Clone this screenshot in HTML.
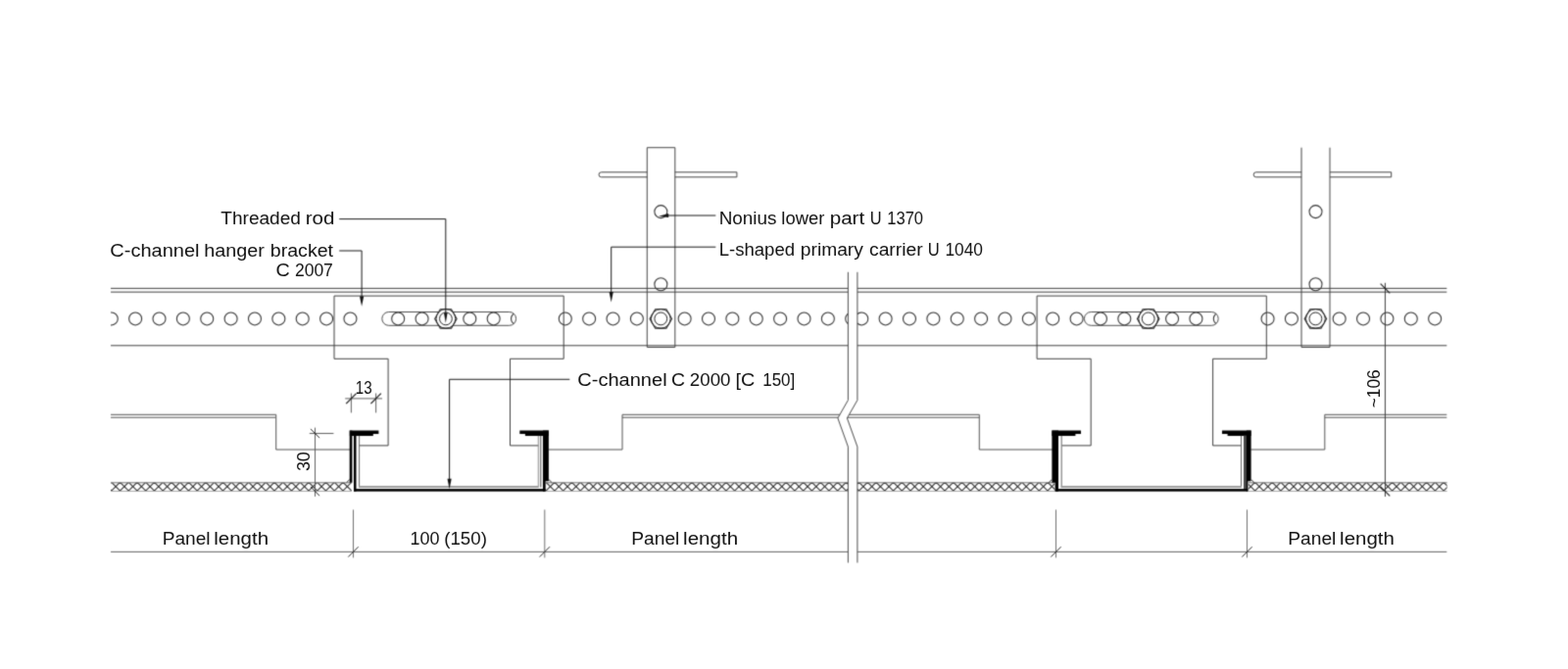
<!DOCTYPE html>
<html lang="en">
<head>
<meta charset="utf-8">
<title>C-channel suspended ceiling detail</title>
<style>
html,body{margin:0;padding:0;background:#fff;}
body{width:1600px;height:683px;overflow:hidden;}
svg{display:block;font-family:"Liberation Sans",sans-serif;}
</style>
</head>
<body>
<svg width="1600" height="683" viewBox="0 0 1600 683">
<filter id="soft" x="0" y="0" width="1600" height="683" filterUnits="userSpaceOnUse" color-interpolation-filters="sRGB"><feConvolveMatrix order="3" kernelMatrix="0.0256 0.1088 0.0256 0.1088 0.4624 0.1088 0.0256 0.1088 0.0256" divisor="1" edgeMode="duplicate" preserveAlpha="false"/></filter>
<g filter="url(#soft)">
<rect x="0" y="0" width="1600" height="683" fill="#ffffff"/>
<line x1="113.00" y1="294.40" x2="865.40" y2="294.40" stroke="#3c3c3c" stroke-width="1.0" />
<line x1="874.90" y1="294.40" x2="1476.30" y2="294.40" stroke="#3c3c3c" stroke-width="1.0" />
<line x1="113.00" y1="298.15" x2="865.40" y2="298.15" stroke="#3c3c3c" stroke-width="1.0" />
<line x1="874.90" y1="298.15" x2="1476.30" y2="298.15" stroke="#3c3c3c" stroke-width="1.0" />
<line x1="113.00" y1="352.80" x2="865.40" y2="352.80" stroke="#3c3c3c" stroke-width="1.0" />
<line x1="874.90" y1="352.80" x2="1476.30" y2="352.80" stroke="#3c3c3c" stroke-width="1.0" />
<clipPath id="cl"><rect x="113" y="300" width="752.4" height="50"/></clipPath>
<clipPath id="cr"><rect x="874.9" y="300" width="620" height="50"/></clipPath>
<clipPath id="s1"><path d="M396.70,318.5 H519.70 A6.90,6.90 0 0 1 519.70,332.3 H396.70 A6.90,6.90 0 0 1 396.70,318.5 Z"/></clipPath>
<clipPath id="s2"><path d="M1113.30,318.5 H1236.30 A6.90,6.90 0 0 1 1236.30,332.3 H1113.30 A6.90,6.90 0 0 1 1113.30,318.5 Z"/></clipPath>
<circle cx="113.75" cy="325.40" r="6.50" fill="none" stroke="#2c2c2c" stroke-width="1.05" clip-path="url(#cl)"/>
<circle cx="138.12" cy="325.40" r="6.50" fill="none" stroke="#2c2c2c" stroke-width="1.05" clip-path="url(#cl)"/>
<circle cx="162.49" cy="325.40" r="6.50" fill="none" stroke="#2c2c2c" stroke-width="1.05" clip-path="url(#cl)"/>
<circle cx="186.86" cy="325.40" r="6.50" fill="none" stroke="#2c2c2c" stroke-width="1.05" clip-path="url(#cl)"/>
<circle cx="211.23" cy="325.40" r="6.50" fill="none" stroke="#2c2c2c" stroke-width="1.05" clip-path="url(#cl)"/>
<circle cx="235.60" cy="325.40" r="6.50" fill="none" stroke="#2c2c2c" stroke-width="1.05" clip-path="url(#cl)"/>
<circle cx="259.97" cy="325.40" r="6.50" fill="none" stroke="#2c2c2c" stroke-width="1.05" clip-path="url(#cl)"/>
<circle cx="284.34" cy="325.40" r="6.50" fill="none" stroke="#2c2c2c" stroke-width="1.05" clip-path="url(#cl)"/>
<circle cx="308.71" cy="325.40" r="6.50" fill="none" stroke="#2c2c2c" stroke-width="1.05" clip-path="url(#cl)"/>
<circle cx="333.08" cy="325.40" r="6.50" fill="none" stroke="#2c2c2c" stroke-width="1.05" clip-path="url(#cl)"/>
<circle cx="357.45" cy="325.40" r="6.50" fill="none" stroke="#2c2c2c" stroke-width="1.05" clip-path="url(#cl)"/>
<circle cx="406.19" cy="325.40" r="6.50" fill="none" stroke="#2c2c2c" stroke-width="1.05" clip-path="url(#cl)"/>
<circle cx="430.56" cy="325.40" r="6.50" fill="none" stroke="#2c2c2c" stroke-width="1.05" clip-path="url(#cl)"/>
<circle cx="479.30" cy="325.40" r="6.50" fill="none" stroke="#2c2c2c" stroke-width="1.05" clip-path="url(#cl)"/>
<circle cx="503.67" cy="325.40" r="6.50" fill="none" stroke="#2c2c2c" stroke-width="1.05" clip-path="url(#cl)"/>
<circle cx="576.78" cy="325.40" r="6.50" fill="none" stroke="#2c2c2c" stroke-width="1.05" clip-path="url(#cl)"/>
<circle cx="601.15" cy="325.40" r="6.50" fill="none" stroke="#2c2c2c" stroke-width="1.05" clip-path="url(#cl)"/>
<circle cx="625.52" cy="325.40" r="6.50" fill="none" stroke="#2c2c2c" stroke-width="1.05" clip-path="url(#cl)"/>
<circle cx="649.89" cy="325.40" r="6.50" fill="none" stroke="#2c2c2c" stroke-width="1.05" clip-path="url(#cl)"/>
<circle cx="698.63" cy="325.40" r="6.50" fill="none" stroke="#2c2c2c" stroke-width="1.05" clip-path="url(#cl)"/>
<circle cx="723.00" cy="325.40" r="6.50" fill="none" stroke="#2c2c2c" stroke-width="1.05" clip-path="url(#cl)"/>
<circle cx="747.37" cy="325.40" r="6.50" fill="none" stroke="#2c2c2c" stroke-width="1.05" clip-path="url(#cl)"/>
<circle cx="771.74" cy="325.40" r="6.50" fill="none" stroke="#2c2c2c" stroke-width="1.05" clip-path="url(#cl)"/>
<circle cx="796.11" cy="325.40" r="6.50" fill="none" stroke="#2c2c2c" stroke-width="1.05" clip-path="url(#cl)"/>
<circle cx="820.48" cy="325.40" r="6.50" fill="none" stroke="#2c2c2c" stroke-width="1.05" clip-path="url(#cl)"/>
<circle cx="844.85" cy="325.40" r="6.50" fill="none" stroke="#2c2c2c" stroke-width="1.05" clip-path="url(#cl)"/>
<circle cx="869.22" cy="325.40" r="6.50" fill="none" stroke="#2c2c2c" stroke-width="1.05" clip-path="url(#cl)"/>
<circle cx="528.04" cy="325.40" r="6.50" fill="none" stroke="#2c2c2c" stroke-width="1.05" clip-path="url(#s1)"/>
<circle cx="879.26" cy="325.40" r="6.50" fill="none" stroke="#2c2c2c" stroke-width="1.05" clip-path="url(#cr)"/>
<circle cx="903.63" cy="325.40" r="6.50" fill="none" stroke="#2c2c2c" stroke-width="1.05" clip-path="url(#cr)"/>
<circle cx="928.00" cy="325.40" r="6.50" fill="none" stroke="#2c2c2c" stroke-width="1.05" clip-path="url(#cr)"/>
<circle cx="952.37" cy="325.40" r="6.50" fill="none" stroke="#2c2c2c" stroke-width="1.05" clip-path="url(#cr)"/>
<circle cx="976.74" cy="325.40" r="6.50" fill="none" stroke="#2c2c2c" stroke-width="1.05" clip-path="url(#cr)"/>
<circle cx="1001.11" cy="325.40" r="6.50" fill="none" stroke="#2c2c2c" stroke-width="1.05" clip-path="url(#cr)"/>
<circle cx="1025.48" cy="325.40" r="6.50" fill="none" stroke="#2c2c2c" stroke-width="1.05" clip-path="url(#cr)"/>
<circle cx="1049.85" cy="325.40" r="6.50" fill="none" stroke="#2c2c2c" stroke-width="1.05" clip-path="url(#cr)"/>
<circle cx="1074.22" cy="325.40" r="6.50" fill="none" stroke="#2c2c2c" stroke-width="1.05" clip-path="url(#cr)"/>
<circle cx="1098.59" cy="325.40" r="6.50" fill="none" stroke="#2c2c2c" stroke-width="1.05" clip-path="url(#cr)"/>
<circle cx="1122.96" cy="325.40" r="6.50" fill="none" stroke="#2c2c2c" stroke-width="1.05" clip-path="url(#cr)"/>
<circle cx="1147.33" cy="325.40" r="6.50" fill="none" stroke="#2c2c2c" stroke-width="1.05" clip-path="url(#cr)"/>
<circle cx="1196.07" cy="325.40" r="6.50" fill="none" stroke="#2c2c2c" stroke-width="1.05" clip-path="url(#cr)"/>
<circle cx="1220.44" cy="325.40" r="6.50" fill="none" stroke="#2c2c2c" stroke-width="1.05" clip-path="url(#cr)"/>
<circle cx="1293.55" cy="325.40" r="6.50" fill="none" stroke="#2c2c2c" stroke-width="1.05" clip-path="url(#cr)"/>
<circle cx="1317.92" cy="325.40" r="6.50" fill="none" stroke="#2c2c2c" stroke-width="1.05" clip-path="url(#cr)"/>
<circle cx="1366.66" cy="325.40" r="6.50" fill="none" stroke="#2c2c2c" stroke-width="1.05" clip-path="url(#cr)"/>
<circle cx="1391.03" cy="325.40" r="6.50" fill="none" stroke="#2c2c2c" stroke-width="1.05" clip-path="url(#cr)"/>
<circle cx="1415.40" cy="325.40" r="6.50" fill="none" stroke="#2c2c2c" stroke-width="1.05" clip-path="url(#cr)"/>
<circle cx="1439.77" cy="325.40" r="6.50" fill="none" stroke="#2c2c2c" stroke-width="1.05" clip-path="url(#cr)"/>
<circle cx="1464.14" cy="325.40" r="6.50" fill="none" stroke="#2c2c2c" stroke-width="1.05" clip-path="url(#cr)"/>
<circle cx="1244.81" cy="325.40" r="6.50" fill="none" stroke="#2c2c2c" stroke-width="1.05" clip-path="url(#s2)"/>
<path d="M396.70,318.5 H519.70 A6.90,6.90 0 0 1 519.70,332.3 H396.70 A6.90,6.90 0 0 1 396.70,318.5 Z" fill="none" stroke="#4c4c4c" stroke-width="1.0"/>
<path d="M1113.30,318.5 H1236.30 A6.90,6.90 0 0 1 1236.30,332.3 H1113.30 A6.90,6.90 0 0 1 1113.30,318.5 Z" fill="none" stroke="#4c4c4c" stroke-width="1.0"/>
<polyline points="366.50,454.90 396.10,454.90 396.10,366.30 341.00,366.30 341.00,302.10 575.20,302.10 575.20,366.30 520.50,366.30 520.50,454.90 549.40,454.90" fill="none" stroke="#3c3c3c" stroke-width="1.0" />
<polyline points="1083.60,454.90 1113.20,454.90 1113.20,366.30 1058.10,366.30 1058.10,302.10 1292.30,302.10 1292.30,366.30 1237.60,366.30 1237.60,454.90 1266.50,454.90" fill="none" stroke="#3c3c3c" stroke-width="1.0" />
<polygon points="660.30,354.50 660.30,150.70 688.80,150.70 688.80,354.50" fill="none" stroke="#424242" stroke-width="1.0" />
<circle cx="674.35" cy="216.10" r="6.50" fill="none" stroke="#2c2c2c" stroke-width="1.05" />
<circle cx="674.35" cy="290.30" r="6.50" fill="none" stroke="#2c2c2c" stroke-width="1.05" />
<path d="M660.30,175.8 H613.60 A2.5,2.5 0 0 0 613.60,180.8 H660.30" fill="none" stroke="#424242" stroke-width="1.0"/>
<polyline points="688.80,175.80 751.90,175.80 751.90,180.80 688.80,180.80" fill="none" stroke="#424242" stroke-width="1.0" />
<polyline points="1328.00,150.70 1328.00,354.50 1357.00,354.50 1357.00,150.70" fill="none" stroke="#424242" stroke-width="1.0" />
<circle cx="1342.50" cy="216.10" r="6.50" fill="none" stroke="#2c2c2c" stroke-width="1.05" />
<circle cx="1342.50" cy="290.30" r="6.50" fill="none" stroke="#2c2c2c" stroke-width="1.05" />
<path d="M1328.00,175.8 H1281.70 A2.5,2.5 0 0 0 1281.70,180.8 H1328.00" fill="none" stroke="#424242" stroke-width="1.0"/>
<polyline points="1357.00,175.80 1419.70,175.80 1419.70,180.80 1357.00,180.80" fill="none" stroke="#424242" stroke-width="1.0" />
<polygon points="466.15,325.40 460.52,335.14 449.27,335.14 443.65,325.40 449.27,315.66 460.52,315.66" fill="#fff" stroke="#222" stroke-width="1.05" />
<circle cx="454.90" cy="325.40" r="9.90" fill="none" stroke="#222" stroke-width="1.0" />
<circle cx="454.90" cy="325.40" r="6.40" fill="none" stroke="#222" stroke-width="1.0" />
<polygon points="685.55,325.40 679.92,335.14 668.67,335.14 663.05,325.40 668.67,315.66 679.92,315.66" fill="#fff" stroke="#222" stroke-width="1.05" />
<circle cx="674.30" cy="325.40" r="9.90" fill="none" stroke="#222" stroke-width="1.0" />
<circle cx="674.30" cy="325.40" r="6.40" fill="none" stroke="#222" stroke-width="1.0" />
<polygon points="1182.95,325.40 1177.33,335.14 1166.08,335.14 1160.45,325.40 1166.08,315.66 1177.33,315.66" fill="#fff" stroke="#222" stroke-width="1.05" />
<circle cx="1171.70" cy="325.40" r="9.90" fill="none" stroke="#222" stroke-width="1.0" />
<circle cx="1171.70" cy="325.40" r="6.40" fill="none" stroke="#222" stroke-width="1.0" />
<polygon points="1353.65,325.40 1348.03,335.14 1336.78,335.14 1331.15,325.40 1336.78,315.66 1348.03,315.66" fill="#fff" stroke="#222" stroke-width="1.05" />
<circle cx="1342.40" cy="325.40" r="9.90" fill="none" stroke="#222" stroke-width="1.0" />
<circle cx="1342.40" cy="325.40" r="6.40" fill="none" stroke="#222" stroke-width="1.0" />
<clipPath id="hc1"><rect x="113.00" y="492.8" width="245.80" height="8.80"/></clipPath>
<polyline points="96.22,492.32 104.97,501.07 113.72,492.32 122.47,501.07 131.22,492.32 139.97,501.07 148.72,492.32 157.47,501.07 166.22,492.32 174.97,501.07 183.72,492.32 192.47,501.07 201.22,492.32 209.97,501.07 218.72,492.32 227.47,501.07 236.22,492.32 244.97,501.07 253.73,492.32 262.48,501.07 271.23,492.32 279.98,501.07 288.73,492.32 297.48,501.07 306.23,492.32 314.98,501.07 323.73,492.32 332.48,501.07 341.23,492.32 349.98,501.07 358.73,492.32 367.48,501.07" fill="none" stroke="#262626" stroke-width="1.05" clip-path="url(#hc1)"/>
<polyline points="96.22,501.07 104.97,492.32 113.72,501.07 122.47,492.32 131.22,501.07 139.97,492.32 148.72,501.07 157.47,492.32 166.22,501.07 174.97,492.32 183.72,501.07 192.47,492.32 201.22,501.07 209.97,492.32 218.72,501.07 227.47,492.32 236.22,501.07 244.97,492.32 253.73,501.07 262.48,492.32 271.23,501.07 279.98,492.32 288.73,501.07 297.48,492.32 306.23,501.07 314.98,492.32 323.73,501.07 332.48,492.32 341.23,501.07 349.98,492.32 358.73,501.07 367.48,492.32" fill="none" stroke="#262626" stroke-width="1.05" clip-path="url(#hc1)"/>
<line x1="113.00" y1="492.80" x2="358.80" y2="492.80" stroke="#707070" stroke-width="1.0" />
<line x1="113.00" y1="501.50" x2="358.80" y2="501.50" stroke="#a8a8a8" stroke-width="1.0" />
<clipPath id="hc2"><rect x="557.00" y="492.8" width="308.40" height="8.80"/></clipPath>
<polyline points="539.67,492.32 548.42,501.07 557.17,492.32 565.92,501.07 574.67,492.32 583.42,501.07 592.17,492.32 600.92,501.07 609.67,492.32 618.42,501.07 627.17,492.32 635.92,501.07 644.67,492.32 653.42,501.07 662.17,492.32 670.92,501.07 679.67,492.32 688.42,501.07 697.17,492.32 705.92,501.07 714.67,492.32 723.42,501.07 732.17,492.32 740.92,501.07 749.67,492.32 758.42,501.07 767.17,492.32 775.92,501.07 784.67,492.32 793.42,501.07 802.17,492.32 810.92,501.07 819.67,492.32 828.42,501.07 837.17,492.32 845.92,501.07 854.67,492.32 863.42,501.07 872.17,492.32" fill="none" stroke="#262626" stroke-width="1.05" clip-path="url(#hc2)"/>
<polyline points="539.67,501.07 548.42,492.32 557.17,501.07 565.92,492.32 574.67,501.07 583.42,492.32 592.17,501.07 600.92,492.32 609.67,501.07 618.42,492.32 627.17,501.07 635.92,492.32 644.67,501.07 653.42,492.32 662.17,501.07 670.92,492.32 679.67,501.07 688.42,492.32 697.17,501.07 705.92,492.32 714.67,501.07 723.42,492.32 732.17,501.07 740.92,492.32 749.67,501.07 758.42,492.32 767.17,501.07 775.92,492.32 784.67,501.07 793.42,492.32 802.17,501.07 810.92,492.32 819.67,501.07 828.42,492.32 837.17,501.07 845.92,492.32 854.67,501.07 863.42,492.32 872.17,501.07" fill="none" stroke="#262626" stroke-width="1.05" clip-path="url(#hc2)"/>
<line x1="557.00" y1="492.80" x2="865.40" y2="492.80" stroke="#707070" stroke-width="1.0" />
<line x1="557.00" y1="501.50" x2="865.40" y2="501.50" stroke="#a8a8a8" stroke-width="1.0" />
<clipPath id="hc3"><rect x="874.90" y="492.8" width="201.10" height="8.80"/></clipPath>
<polyline points="859.02,492.32 867.77,501.07 876.52,492.32 885.27,501.07 894.02,492.32 902.77,501.07 911.52,492.32 920.27,501.07 929.02,492.32 937.77,501.07 946.52,492.32 955.27,501.07 964.02,492.32 972.77,501.07 981.52,492.32 990.27,501.07 999.02,492.32 1007.77,501.07 1016.52,492.32 1025.28,501.07 1034.03,492.32 1042.78,501.07 1051.53,492.32 1060.28,501.07 1069.03,492.32 1077.78,501.07 1086.53,492.32" fill="none" stroke="#262626" stroke-width="1.05" clip-path="url(#hc3)"/>
<polyline points="859.02,501.07 867.77,492.32 876.52,501.07 885.27,492.32 894.02,501.07 902.77,492.32 911.52,501.07 920.27,492.32 929.02,501.07 937.77,492.32 946.52,501.07 955.27,492.32 964.02,501.07 972.77,492.32 981.52,501.07 990.27,492.32 999.02,501.07 1007.77,492.32 1016.52,501.07 1025.28,492.32 1034.03,501.07 1042.78,492.32 1051.53,501.07 1060.28,492.32 1069.03,501.07 1077.78,492.32 1086.53,501.07" fill="none" stroke="#262626" stroke-width="1.05" clip-path="url(#hc3)"/>
<line x1="874.90" y1="492.80" x2="1076.00" y2="492.80" stroke="#707070" stroke-width="1.0" />
<line x1="874.90" y1="501.50" x2="1076.00" y2="501.50" stroke="#a8a8a8" stroke-width="1.0" />
<clipPath id="hc4"><rect x="1274.00" y="492.8" width="202.60" height="8.80"/></clipPath>
<polyline points="1254.38,492.32 1263.12,501.07 1271.88,492.32 1280.62,501.07 1289.38,492.32 1298.12,501.07 1306.88,492.32 1315.62,501.07 1324.38,492.32 1333.12,501.07 1341.88,492.32 1350.62,501.07 1359.38,492.32 1368.12,501.07 1376.88,492.32 1385.62,501.07 1394.38,492.32 1403.12,501.07 1411.88,492.32 1420.62,501.07 1429.38,492.32 1438.12,501.07 1446.88,492.32 1455.62,501.07 1464.38,492.32 1473.12,501.07 1481.88,492.32" fill="none" stroke="#262626" stroke-width="1.05" clip-path="url(#hc4)"/>
<polyline points="1254.38,501.07 1263.12,492.32 1271.88,501.07 1280.62,492.32 1289.38,501.07 1298.12,492.32 1306.88,501.07 1315.62,492.32 1324.38,501.07 1333.12,492.32 1341.88,501.07 1350.62,492.32 1359.38,501.07 1368.12,492.32 1376.88,501.07 1385.62,492.32 1394.38,501.07 1403.12,492.32 1411.88,501.07 1420.62,492.32 1429.38,501.07 1438.12,492.32 1446.88,501.07 1455.62,492.32 1464.38,501.07 1473.12,492.32 1481.88,501.07" fill="none" stroke="#262626" stroke-width="1.05" clip-path="url(#hc4)"/>
<line x1="1274.00" y1="492.80" x2="1476.60" y2="492.80" stroke="#707070" stroke-width="1.0" />
<line x1="1274.00" y1="501.50" x2="1476.60" y2="501.50" stroke="#a8a8a8" stroke-width="1.0" />
<line x1="113.00" y1="423.30" x2="281.70" y2="423.30" stroke="#505050" stroke-width="1.0" />
<line x1="113.00" y1="426.20" x2="281.20" y2="426.20" stroke="#505050" stroke-width="1.0" />
<polyline points="281.70,423.30 281.70,459.00 357.00,459.00" fill="none" stroke="#505050" stroke-width="1.0" />
<polyline points="559.50,459.00 635.00,459.00 635.00,423.30 865.40,423.30" fill="none" stroke="#505050" stroke-width="1.0" />
<line x1="635.00" y1="426.20" x2="865.40" y2="426.20" stroke="#505050" stroke-width="1.0" />
<polyline points="862.90,423.30 999.30,423.30 999.30,459.00 1074.00,459.00" fill="none" stroke="#505050" stroke-width="1.0" />
<line x1="862.90" y1="426.20" x2="999.30" y2="426.20" stroke="#505050" stroke-width="1.0" />
<polyline points="1276.30,459.00 1351.80,459.00 1351.80,423.30 1476.30,423.30" fill="none" stroke="#505050" stroke-width="1.0" />
<line x1="1351.80" y1="426.20" x2="1476.30" y2="426.20" stroke="#505050" stroke-width="1.0" />
<path d="M356.80,439.6 H386.40 V443.1 H380.80 V444.90000000000003 H356.80 Z" fill="#000"/>
<path d="M559.90,439.6 H530.30 V443.1 H535.90 V444.90000000000003 H559.90 Z" fill="#000"/>
<rect x="356.70" y="439.6" width="2.7" height="53.10" fill="#000"/>
<rect x="361.00" y="443.6" width="2.5" height="58.10" fill="#000"/>
<path d="M559.90,439.6 H554.00 V501.7 H556.70 V491.2 H559.90 Z" fill="#000"/>
<line x1="551.80" y1="444.90" x2="551.80" y2="497.50" stroke="#444" stroke-width="1.0" />
<polyline points="549.30,444.90 549.30,496.80" fill="none" stroke="#8a8a8a" stroke-width="1.0" />
<rect x="361.00" y="499.10" width="195.70" height="2.6" fill="#000"/>
<line x1="366.60" y1="444.90" x2="366.60" y2="497.80" stroke="#666" stroke-width="1.0" />
<line x1="366.10" y1="497.00" x2="549.80" y2="497.00" stroke="#9c9c9c" stroke-width="1.9" />
<polyline points="353.50,492.70 356.80,489.50" fill="none" stroke="#333" stroke-width="1.0" />
<polyline points="563.20,492.70 559.90,489.50" fill="none" stroke="#333" stroke-width="1.0" />
<path d="M1073.40,439.6 H1103.00 V443.1 H1097.40 V444.90000000000003 H1073.40 Z" fill="#000"/>
<path d="M1276.60,439.6 H1247.00 V443.1 H1252.60 V444.90000000000003 H1276.60 Z" fill="#000"/>
<path d="M1073.40,439.6 H1080.00 V501.7 H1076.60 V492.7 H1073.40 Z" fill="#000"/>
<rect x="1269.00" y="444.6" width="3.2" height="56.10" fill="#484848"/>
<path d="M1276.60,439.6 H1271.90 V501.7 H1273.40 V491.2 H1276.60 Z" fill="#000"/>
<polyline points="1266.50,444.90 1266.50,496.80" fill="none" stroke="#666" stroke-width="1.0" />
<rect x="1076.60" y="499.10" width="196.80" height="2.6" fill="#000"/>
<line x1="1083.20" y1="444.90" x2="1083.20" y2="497.80" stroke="#666" stroke-width="1.0" />
<line x1="1082.70" y1="497.00" x2="1267.00" y2="497.00" stroke="#9c9c9c" stroke-width="1.9" />
<polyline points="1070.10,492.70 1073.40,489.50" fill="none" stroke="#333" stroke-width="1.0" />
<polyline points="1279.90,492.70 1276.60,489.50" fill="none" stroke="#333" stroke-width="1.0" />
<polygon points="865.40,277.80 865.40,408.50 854.90,426.90 865.40,456.10 865.40,574.50 874.90,574.50 874.90,456.10 864.40,426.90 874.90,408.50 874.90,277.80" fill="#fff" stroke="none" stroke-width="1.0" />
<polyline points="865.40,277.80 865.40,408.50 854.90,426.90 865.40,456.10 865.40,574.50" fill="none" stroke="#4a4a4a" stroke-width="1.0" />
<polyline points="874.90,277.80 874.90,408.50 864.40,426.90 874.90,456.10 874.90,574.50" fill="none" stroke="#4a4a4a" stroke-width="1.0" />
<line x1="113.00" y1="563.40" x2="865.40" y2="563.40" stroke="#5c5c5c" stroke-width="1.0" />
<line x1="874.90" y1="563.40" x2="1476.30" y2="563.40" stroke="#5c5c5c" stroke-width="1.0" />
<line x1="360.50" y1="520.40" x2="360.50" y2="569.40" stroke="#6c6c6c" stroke-width="1.0" />
<line x1="355.30" y1="568.60" x2="365.70" y2="558.20" stroke="#2a2a2a" stroke-width="1.0" />
<line x1="555.80" y1="520.40" x2="555.80" y2="569.40" stroke="#6c6c6c" stroke-width="1.0" />
<line x1="550.60" y1="568.60" x2="561.00" y2="558.20" stroke="#2a2a2a" stroke-width="1.0" />
<line x1="1077.50" y1="520.40" x2="1077.50" y2="569.40" stroke="#6c6c6c" stroke-width="1.0" />
<line x1="1072.30" y1="568.60" x2="1082.70" y2="558.20" stroke="#2a2a2a" stroke-width="1.0" />
<line x1="1272.50" y1="520.40" x2="1272.50" y2="569.40" stroke="#6c6c6c" stroke-width="1.0" />
<line x1="1267.30" y1="568.60" x2="1277.70" y2="558.20" stroke="#2a2a2a" stroke-width="1.0" />
<line x1="352.20" y1="406.90" x2="390.00" y2="406.90" stroke="#5c5c5c" stroke-width="1.0" />
<line x1="358.40" y1="401.50" x2="358.40" y2="421.40" stroke="#5c5c5c" stroke-width="1.0" />
<line x1="353.20" y1="412.10" x2="363.60" y2="401.70" stroke="#161616" stroke-width="1.2" />
<line x1="383.60" y1="401.50" x2="383.60" y2="421.40" stroke="#5c5c5c" stroke-width="1.0" />
<line x1="378.40" y1="412.10" x2="388.80" y2="401.70" stroke="#161616" stroke-width="1.2" />
<line x1="321.50" y1="436.60" x2="321.50" y2="506.90" stroke="#5c5c5c" stroke-width="1.0" />
<line x1="315.80" y1="442.50" x2="340.40" y2="442.50" stroke="#5c5c5c" stroke-width="1.0" />
<line x1="316.90" y1="437.90" x2="326.10" y2="447.10" stroke="#2a2a2a" stroke-width="1.0" />
<line x1="316.90" y1="497.00" x2="326.10" y2="506.20" stroke="#2a2a2a" stroke-width="1.0" />
<line x1="1413.45" y1="288.80" x2="1413.45" y2="507.00" stroke="#3a3a3a" stroke-width="1.0" />
<line x1="1408.65" y1="289.70" x2="1418.25" y2="299.30" stroke="#1a1a1a" stroke-width="1.1" />
<line x1="1408.65" y1="496.80" x2="1418.25" y2="506.40" stroke="#1a1a1a" stroke-width="1.1" />
<polyline points="346.20,223.60 454.80,223.60 454.80,322.00" fill="none" stroke="#141414" stroke-width="1.0" />
<polygon points="454.80,329.80 453.00,319.40 456.60,319.40" fill="#111"/>
<polyline points="346.20,256.00 369.10,256.00 369.10,304.00" fill="none" stroke="#141414" stroke-width="1.0" />
<polygon points="369.10,312.80 367.00,302.40 371.20,302.40" fill="#111"/>
<line x1="681.00" y1="220.00" x2="730.30" y2="220.00" stroke="#141414" stroke-width="1.0" />
<polygon points="672.1,220.7 682.2,218.0 682.2,221.9" fill="#111"/>
<polyline points="730.30,252.20 623.70,252.20 623.70,299.00" fill="none" stroke="#141414" stroke-width="1.0" />
<polygon points="623.70,308.40 621.60,298.00 625.80,298.00" fill="#111"/>
<polyline points="581.30,387.30 458.60,387.30 458.60,491.00" fill="none" stroke="#141414" stroke-width="1.0" />
<polygon points="458.60,499.20 456.50,488.80 460.70,488.80" fill="#111"/>
</g>
<filter id="soft2" x="0" y="0" width="1600" height="683" filterUnits="userSpaceOnUse" color-interpolation-filters="sRGB"><feConvolveMatrix order="3" kernelMatrix="0.0016 0.0368 0.0016 0.0368 0.8464 0.0368 0.0016 0.0368 0.0016" divisor="1" edgeMode="duplicate" preserveAlpha="false"/></filter>
<g filter="url(#soft2)">
<text font-size="17.5" fill="#0c0c0c"><tspan x="225.27" y="229.00" textLength="81.66" lengthAdjust="spacingAndGlyphs">Threaded</tspan> <tspan x="311.74" y="229.00" textLength="29.69" lengthAdjust="spacingAndGlyphs">rod</tspan></text>
<text font-size="17.5" fill="#0c0c0c"><tspan x="112.28" y="261.50" textLength="91.26" lengthAdjust="spacingAndGlyphs">C-channel</tspan> <tspan x="208.33" y="261.50" textLength="61.60" lengthAdjust="spacingAndGlyphs">hanger</tspan> <tspan x="275.74" y="261.50" textLength="64.31" lengthAdjust="spacingAndGlyphs">bracket</tspan></text>
<text font-size="17.5" fill="#0c0c0c"><tspan x="281.60" y="281.50" textLength="14.25" lengthAdjust="spacingAndGlyphs">C</tspan> <tspan x="300.92" y="281.50" textLength="38.96" lengthAdjust="spacingAndGlyphs">2007</tspan></text>
<text font-size="17.5" fill="#0c0c0c"><tspan x="733.65" y="229.10" textLength="58.83" lengthAdjust="spacingAndGlyphs">Nonius</tspan> <tspan x="797.36" y="229.10" textLength="43.94" lengthAdjust="spacingAndGlyphs">lower</tspan> <tspan x="846.67" y="229.10" textLength="35.58" lengthAdjust="spacingAndGlyphs">part</tspan> <tspan x="887.74" y="229.10" textLength="11.83" lengthAdjust="spacingAndGlyphs">U</tspan> <tspan x="905.24" y="229.10" textLength="36.81" lengthAdjust="spacingAndGlyphs">1370</tspan></text>
<text font-size="17.5" fill="#0c0c0c"><tspan x="733.68" y="261.40" textLength="77.42" lengthAdjust="spacingAndGlyphs">L-shaped</tspan> <tspan x="816.86" y="261.40" textLength="63.97" lengthAdjust="spacingAndGlyphs">primary</tspan> <tspan x="886.98" y="261.40" textLength="54.74" lengthAdjust="spacingAndGlyphs">carrier</tspan> <tspan x="946.82" y="261.40" textLength="11.95" lengthAdjust="spacingAndGlyphs">U</tspan> <tspan x="964.38" y="261.40" textLength="38.60" lengthAdjust="spacingAndGlyphs">1040</tspan></text>
<text font-size="17.5" fill="#0c0c0c"><tspan x="589.28" y="393.90" textLength="91.36" lengthAdjust="spacingAndGlyphs">C-channel</tspan> <tspan x="684.91" y="393.90" textLength="14.03" lengthAdjust="spacingAndGlyphs">C</tspan> <tspan x="703.86" y="393.90" textLength="41.57" lengthAdjust="spacingAndGlyphs">2000</tspan> <tspan x="750.59" y="393.90" textLength="19.76" lengthAdjust="spacingAndGlyphs">[C</tspan> <tspan x="778.21" y="393.90" textLength="33.00" lengthAdjust="spacingAndGlyphs">150]</tspan></text>
<text font-size="17.5" fill="#0c0c0c"><tspan x="165.73" y="556.10" textLength="48.84" lengthAdjust="spacingAndGlyphs">Panel</tspan> <tspan x="218.32" y="556.10" textLength="55.71" lengthAdjust="spacingAndGlyphs">length</tspan></text>
<text font-size="17.5" fill="#0c0c0c"><tspan x="644.22" y="556.10" textLength="49.16" lengthAdjust="spacingAndGlyphs">Panel</tspan> <tspan x="697.11" y="556.10" textLength="56.02" lengthAdjust="spacingAndGlyphs">length</tspan></text>
<text font-size="17.5" fill="#0c0c0c"><tspan x="1314.22" y="556.10" textLength="49.16" lengthAdjust="spacingAndGlyphs">Panel</tspan> <tspan x="1367.12" y="556.10" textLength="55.71" lengthAdjust="spacingAndGlyphs">length</tspan></text>
<text font-size="17.5" fill="#0c0c0c"><tspan x="418.43" y="556.10" textLength="29.97" lengthAdjust="spacingAndGlyphs">100</tspan> <tspan x="453.24" y="556.10" textLength="43.62" lengthAdjust="spacingAndGlyphs">(150)</tspan></text>
<text font-size="17.5" fill="#0c0c0c"><tspan x="362.85" y="402.00" textLength="16.82" lengthAdjust="spacingAndGlyphs">13</tspan></text>
<text x="315.80" y="481.08" font-size="17.5" textLength="19.88" lengthAdjust="spacingAndGlyphs" fill="#0c0c0c" transform="rotate(-90 315.80 481.08)">30</text>
<text x="1407.60" y="416.28" font-size="17.5" textLength="39.04" lengthAdjust="spacingAndGlyphs" fill="#0c0c0c" transform="rotate(-90 1407.60 416.28)">~106</text>
</g>
</svg>
</body>
</html>
